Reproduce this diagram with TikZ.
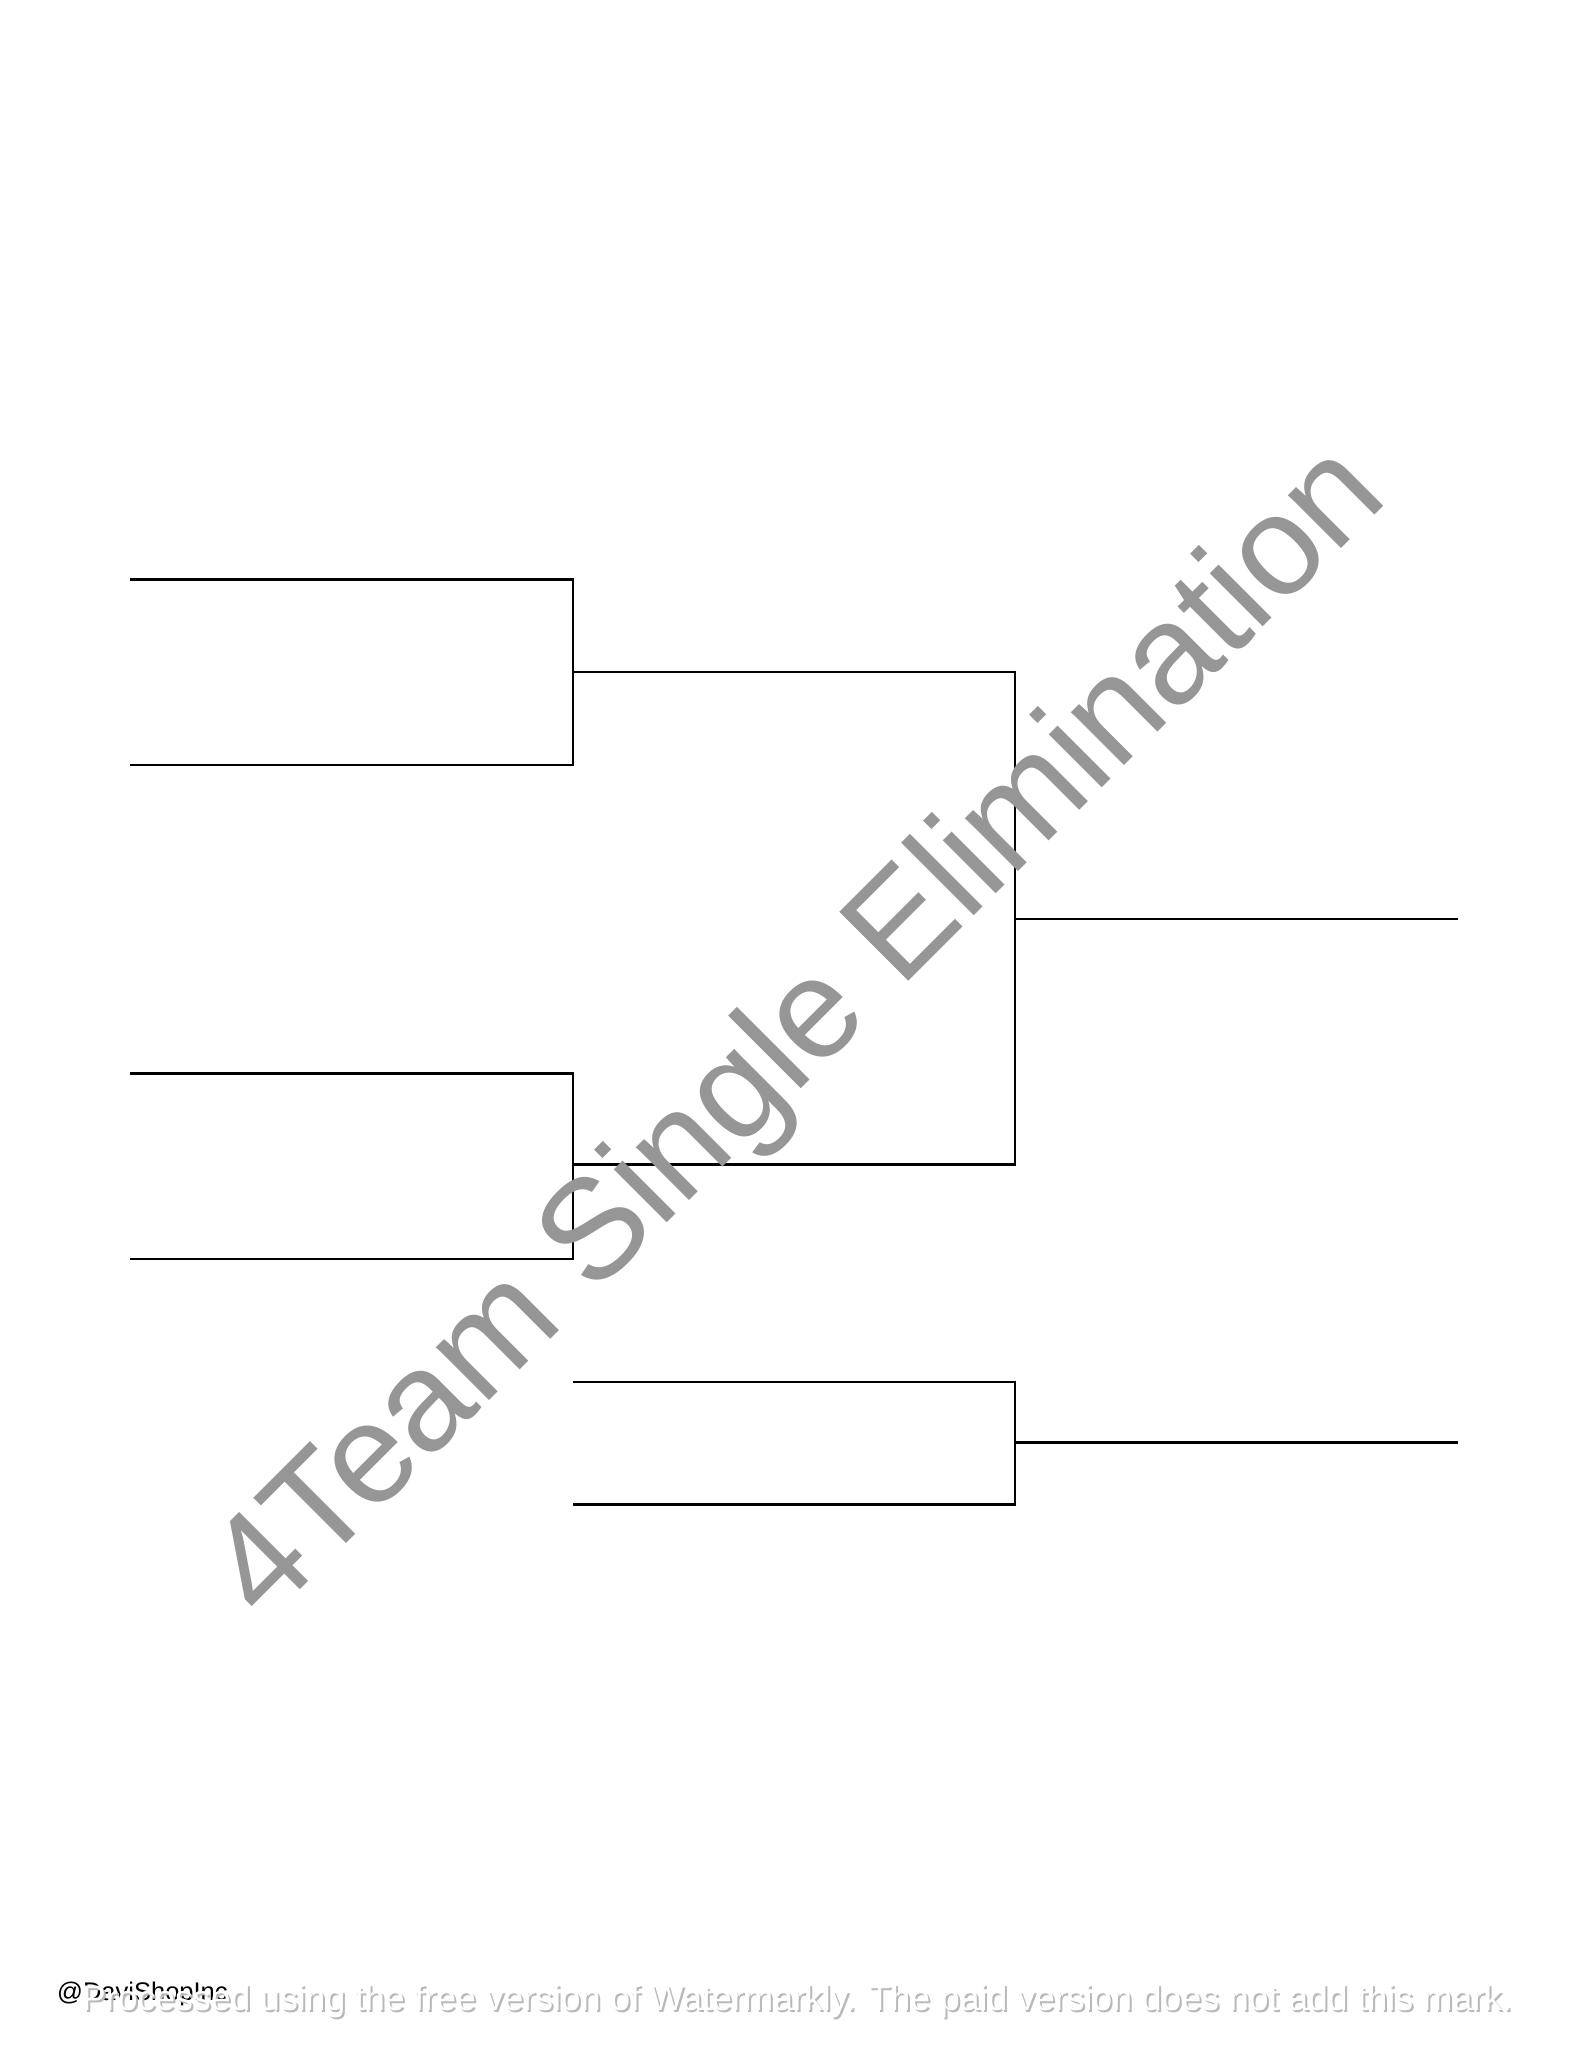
\documentclass[tikz,border=0pt]{standalone}
\usepackage{fontspec}
\setmainfont{Liberation Sans}
\definecolor{wmgray}{RGB}{150,150,150}
\definecolor{shadowgray}{RGB}{185,185,185}
\begin{document}
\begin{tikzpicture}[x=1pt,y=-1pt,
  bline/.style={line width=2.4pt, line join=miter, line cap=butt, black},
  foot/.style={anchor=base west, inner sep=0pt, font=\fontsize{35.6}{36}\selectfont}]
\useasboundingbox (0,0) rectangle (1588,2055);
\fill[white] (0,0) rectangle (1588,2055);

% bracket points
\coordinate (a1) at (130,579.5);
\coordinate (a1r) at (572.7,579.5);
\coordinate (a2r) at (572.7,765);
\coordinate (a2) at (130,765);
\coordinate (am) at (572.7,671.7);
\coordinate (b1) at (130,1073.5);
\coordinate (b1r) at (572.7,1073.5);
\coordinate (b2r) at (572.7,1258.7);
\coordinate (b2) at (130,1258.7);
\coordinate (bm) at (572.7,1164.5);
\coordinate (s1) at (1015,671.7);
\coordinate (s2) at (1015,1164.5);
\coordinate (sm) at (1015,918.9);
\coordinate (fin) at (1458,918.9);
\coordinate (c1) at (572.7,1381.9);
\coordinate (c1r) at (1015,1381.9);
\coordinate (c2r) at (1015,1504.3);
\coordinate (c2) at (572.7,1504.3);
\coordinate (cm) at (1015,1442.3);
\coordinate (third) at (1458,1442.3);

\draw[bline] (a1) -- (a1r) -- (a2r) -- (a2);
\draw[bline] (b1) -- (b1r) -- (b2r) -- (b2);
\draw[bline] (am) -- (s1) -- (s2) -- (bm);
\draw[bline] (sm) -- (fin);
\draw[bline] (c1) -- (c1r) -- (c2r) -- (c2);
\draw[bline] (cm) -- (third);

% diagonal title
\node[rotate=45, anchor=base west, inner sep=0pt, text=wmgray,
      font=\fontsize{141.8}{142}\selectfont] (title) at (265,1625) {4Team Single Elimination};

% footer
\node[anchor=base west, inner sep=0pt, font=\fontsize{25.5}{26}\selectfont] (handle) at (57,2000) {@DaviShopInc};
\node[foot, text=shadowgray] (markshadow) at (84,2012.5) {Processed using the free version of Watermarkly. The paid version does not add this mark.};
\node[foot, text=white] (mark) at (82,2010) {Processed using the free version of Watermarkly. The paid version does not add this mark.};
\end{tikzpicture}
\end{document}
